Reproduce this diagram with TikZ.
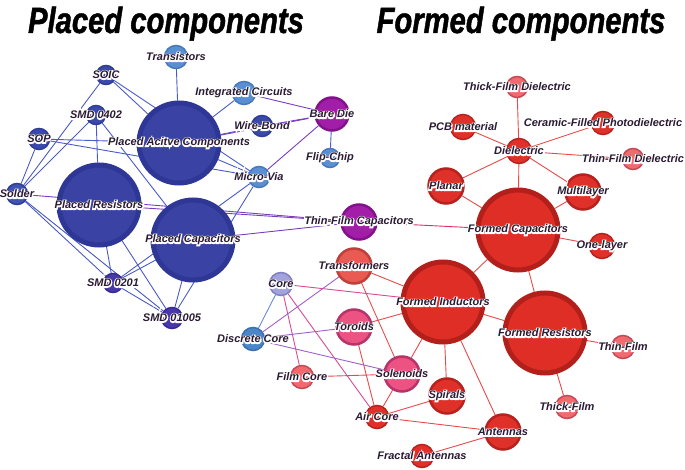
\documentclass[tikz,border=0pt]{standalone}
\usepackage{fontspec}
\setmainfont{Liberation Sans}
\newfontfamily\titlefont[FakeStretch=0.8,FakeBold=1.2]{Liberation Sans}
\newfontfamily\halofont[FakeBold=22]{Liberation Sans}
\usepackage{xcolor}
\usetikzlibrary{positioning,backgrounds}
\newcommand\halo[1]{\rlap{\halofont\bfseries\itshape\color{white}#1}#1}

\definecolor{pbig}{HTML}{3A43A3}
\definecolor{pbigb}{HTML}{2E3795}
\definecolor{pmid}{HTML}{3B4AAA}
\definecolor{pmidb}{HTML}{2F3C98}
\definecolor{plight}{HTML}{5B8FD2}
\definecolor{plightb}{HTML}{4878BD}
\definecolor{pviol}{HTML}{4838A8}
\definecolor{pviolb}{HTML}{392A94}
\definecolor{purp}{HTML}{A31EA8}
\definecolor{purpb}{HTML}{82128A}
\definecolor{lav}{HTML}{A2A2DC}
\definecolor{lavb}{HTML}{8080C2}
\definecolor{dcol}{HTML}{4B86C8}
\definecolor{dcolb}{HTML}{3A6FB0}
\definecolor{fbig}{HTML}{DE2E26}
\definecolor{fbigb}{HTML}{B31F1B}
\definecolor{fmid}{HTML}{DF3129}
\definecolor{fmidb}{HTML}{B8221E}
\definecolor{salm}{HTML}{F06A70}
\definecolor{salmb}{HTML}{C64A55}
\definecolor{trcol}{HTML}{E85A52}
\definecolor{trcolb}{HTML}{BF403A}
\definecolor{pink}{HTML}{EC5282}
\definecolor{pinkb}{HTML}{B5356A}
\definecolor{eblue}{HTML}{4A5AC8}
\definecolor{epurp}{HTML}{7A3CC0}
\definecolor{ered}{HTML}{E84A4A}
\definecolor{epink}{HTML}{D94A96}
\definecolor{eviol}{HTML}{A060C8}
\definecolor{ecore}{HTML}{6A8AD0}
\definecolor{etf}{HTML}{D8306A}
\definecolor{labtext}{HTML}{2B1A33}

\begin{document}
\begin{tikzpicture}[x=1pt, y=-1pt,
    big/.style={circle, inner sep=0pt, minimum size=80pt, line width=5pt},
    mid/.style={circle, inner sep=0pt, minimum size=35pt, line width=2.5pt},
    small/.style={circle, inner sep=0pt, minimum size=#1, line width=1.5pt},
    lbl/.style={font=\bfseries\itshape\fontsize{11}{12}\selectfont, text=labtext, inner sep=0pt},
    lab/.style={label={[lbl]center:\halo{#1}}},
    ttl/.style={font=\titlefont\bfseries\itshape\fontsize{36.5}{40}\selectfont, anchor=base, inner sep=0pt},
    edge/.style={line width=0.9pt}]
    \useasboundingbox (0,0) rectangle (685,470);

    \node[ttl] (ptitle) at (166,33) {Placed components};
    \node[ttl] (ftitle) at (521,33) {Formed components};

    % placed components
    \node[small=23pt, draw=plightb, fill=plight, lab=Transistors] (trans) at (176,57) {};
    \node[small=19pt, draw=pmidb, fill=pmid, lab=SOIC] (soic) at (106,75) {};
    \node[small=23pt, draw=plightb, fill=plight, lab=Integrated Circuits] (ic) at (244,93) {};
    \node[small=19pt, draw=pmidb, fill=pmid, lab=SMD 0402] (smd0402) at (96,115) {};
    \node[small=21pt, draw=pmidb, fill=pmid, lab=Wire-Bond] (wire) at (262,126) {};
    \node[mid, minimum size=33pt, draw=purpb, fill=purp, lab=Bare Die] (bare) at (332,114) {};
    \node[small=21pt, draw=pmidb, fill=pmid, lab=SOP] (sop) at (39,139) {};
    \node[big, draw=pbigb, fill=pbig, lab=Placed Acitve Components] (pac) at (179,143) {};
    \node[small=19pt, draw=plightb, fill=plight, lab=Flip-Chip] (flip) at (330,158) {};
    \node[small=21pt, draw=plightb, fill=plight, lab=Micro-Via] (via) at (259,177) {};
    \node[small=21pt, draw=pmidb, fill=pmid!85!plight, lab=Solder] (solder) at (17,194) {};
    \node[big, draw=pbigb, fill=pbig, lab=Placed Resistors] (pres) at (99,205) {};
    \node[mid, draw=purpb, fill=purp, lab=Thin-Film Capacitors] (tfcap) at (359,222) {};
    \node[big, draw=pbigb, fill=pbig, lab=Placed Capacitors] (pcap) at (193,240) {};
    \node[small=19pt, draw=pviolb, fill=pviol, lab=SMD 0201] (smd0201) at (113,283) {};
    \node[small=21pt, draw=pviolb, fill=pviol, lab=SMD 01005] (smd01005) at (172,318) {};
    \node[small=23pt, draw=lavb, fill=lav, lab=Core] (core) at (281,284) {};
    \node[small=23pt, draw=dcolb, fill=dcol, lab=Discrete Core] (dcore) at (253,339) {};

    % formed components
    \node[small=21pt, draw=salmb, fill=salm, lab=Thick-Film Dielectric] (thickdiel) at (517,87) {};
    \node[small=25pt, draw=fmidb, fill=fmid, lab=PCB material] (pcb) at (463,127) {};
    \node[small=23pt, draw=fmidb, fill=fmid, lab=Ceramic-Filled Photodielectric] (ceram) at (603,123) {};
    \node[small=25pt, draw=fmidb, fill=fmid, lab=Dielectric] (diel) at (519,151) {};
    \node[small=21pt, draw=salmb, fill=salm, lab=Thin-Film Dielectric] (thindiel) at (633,159) {};
    \node[mid, draw=fmidb, fill=fmid, lab=Planar] (planar) at (446,186) {};
    \node[mid, draw=fmidb, fill=fmid, lab=Multilayer] (multi) at (583,192) {};
    \node[big, draw=fbigb, fill=fbig, lab=Formed Capacitors] (fcap) at (518,230) {};
    \node[small=25pt, draw=fmidb, fill=fmid, lab=One-layer] (onel) at (602,246) {};
    \node[mid, draw=trcolb, fill=trcol, lab=Transformers] (transf) at (354,266) {};
    \node[big, draw=fbigb, fill=fbig, lab=Formed Inductors] (find) at (443,302) {};
    \node[mid, draw=pinkb, fill=pink, lab=Toroids] (toro) at (354,327) {};
    \node[big, draw=fbigb, fill=fbig, lab=Formed Resistors] (fres) at (545,333) {};
    \node[small=23pt, draw=salmb, fill=salm, lab=Thin-Film] (thinf) at (623,347) {};
    \node[mid, draw=pinkb, fill=pink, lab=Solenoids] (sol) at (402,374) {};
    \node[small=23pt, draw=salmb, fill=salm, lab=Film Core] (fcore) at (302,377) {};
    \node[mid, draw=fmidb, fill=fmid, lab=Spirals] (spir) at (447,396) {};
    \node[small=23pt, draw=salmb, fill=salm, lab=Thick-Film] (thickf) at (567,407) {};
    \node[small=23pt, draw=fmidb, fill=fmid, lab=Air Core] (air) at (377,417) {};
    \node[mid, draw=fmidb, fill=fmid, lab=Antennas] (ant) at (503,432) {};
    \node[small=23pt, draw=fmidb, fill=fmid, lab=Fractal Antennas] (fant) at (422,456) {};

    \begin{scope}[on background layer]
        \foreach \a/\b in {trans/pac, soic/pac, soic/via, soic/solder, smd0402/pres,
            smd0402/pcap, smd0402/solder, sop/pac, sop/via, sop/solder, solder/smd0201,
            solder/smd01005, pres/smd0201, pres/smd01005, pcap/smd0201, pcap/smd01005,
            smd0201/smd01005, ic/pac, wire/pac, via/pac, via/smd0201, via/smd01005, bare/flip}
            \draw [edge, eblue] (\a) -- (\b);
        \foreach \a/\b in {ic/bare, wire/bare, pac/bare, via/bare, pres/tfcap, pcap/tfcap, solder/tfcap}
            \draw [edge, epurp] (\a) -- (\b);
        \draw [edge, etf] (tfcap) -- (fcap);
        \foreach \a/\b in {thickdiel/diel, pcb/diel, ceram/diel, thindiel/diel, diel/planar,
            diel/multi, diel/fcap, planar/fcap, multi/fcap, onel/fcap, fcap/find, fcap/fres,
            transf/find, transf/sol, toro/find, toro/air, sol/find, sol/air, fcore/sol,
            spir/find, spir/air, air/ant, ant/find, ant/fant, find/fres, fres/thinf, fres/thickf}
            \draw [edge, ered] (\a) -- (\b);
        \foreach \a/\b in {core/find, core/fcore, core/air}
            \draw [edge, epink] (\a) -- (\b);
        \foreach \a/\b in {dcore/transf, dcore/toro, dcore/sol}
            \draw [edge, eviol] (\a) -- (\b);
        \draw [edge, ecore] (core) -- (dcore);
    \end{scope}
\end{tikzpicture}
\end{document}
